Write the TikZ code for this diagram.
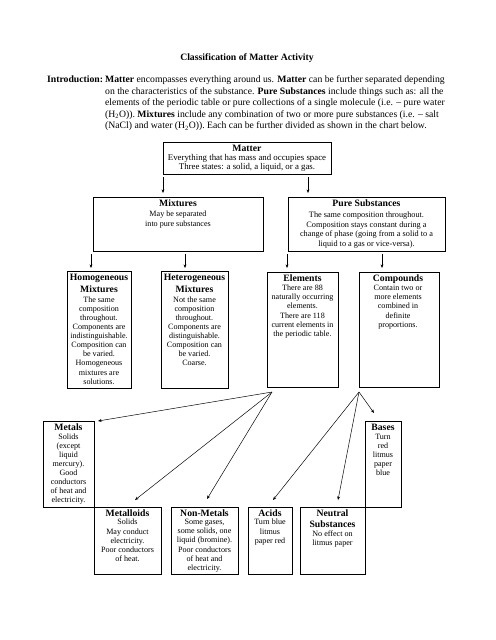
\documentclass[tikz,border=0pt]{standalone}
\usepackage{fontspec}
\setmainfont{Liberation Serif}
\usetikzlibrary{arrows.meta,fit}
\tikzset{
  box/.style={draw, line width=0.7pt, inner sep=0pt},
  hd/.style={font=\bfseries\fontsize{12}{14}\selectfont, anchor=base, inner sep=0pt},
  bd/.style={font=\fontsize{10}{11.25}\selectfont, align=center, anchor=north, inner sep=0pt},
  intro/.style={font=\fontsize{12}{14}\selectfont, anchor=base west, inner sep=0pt},
  arr/.style={-{Stealth[length=4.5pt,width=3.6pt]}, line width=0.6pt},
}
\begin{document}
\begin{tikzpicture}[x=1.23636pt,y=-1.23636pt]
\useasboundingbox (0,0) rectangle (495,640);
\fill[white] (0,0) rectangle (495,640);
% title and introduction
\node[hd] (title) at (247,61) {Classification of Matter Activity};
\node[intro] (introlabel) at (47,83) {\textbf{Introduction:}};
\node[intro] (i1) at (105,83) {\textbf{Matter} encompasses everything around us. \textbf{Matter} can be further separated depending};
\node[intro] (i2) at (105,94.4) {on the characteristics of the substance. \textbf{Pure Substances} include things such as: all the};
\node[intro] (i3) at (105,105.8) {elements of the periodic table or pure collections of a single molecule (i.e. -- pure water};
\node[intro] (i4) at (105,117.2) {(H\textsubscript{2}O)). \textbf{Mixtures} include any combination of two or more pure substances (i.e. -- salt};
\node[intro] (i5) at (105,128.6) {(NaCl) and water (H\textsubscript{2}O)). Each can be further divided as shown in the chart below.};
% Matter
\node[box, fit={(163,142) (331,174)}] (matter) {};
\node[hd] (matterH) at (247,151) {Matter};
\node[bd, font=\fontsize{10.9}{10.8}\selectfont] (matterT) at (247,154.3) {Everything that has mass and occupies space\\Three states: a solid, a liquid, or a gas.};
% second row
\node[box, fit={(93,197) (263,251)}] (mix) {};
\node[hd] (mixH) at (178,206) {Mixtures};
\node[bd, font=\fontsize{10}{11.6}\selectfont] (mixT) at (178,211) {May be separated\\into pure substances};
\node[box, fit={(288,197) (445,251)}] (pure) {};
\node[hd] (pureH) at (366.5,206) {Pure Substances};
\node[bd, font=\fontsize{10.2}{11.8}\selectfont] (pureT) at (366.5,212) {The same composition throughout.\\Composition stays constant during a\\change of phase (going from a solid to a\\liquid to a gas or vice-versa).};
% third row
\node[box, fit={(67,271) (131,388)}] (homog) {};
\node[hd] (homogH1) at (99,280) {Homogeneous};
\node[hd] (homogH2) at (99,292) {Mixtures};
\node[bd] (homogT) at (99,296.5) {The same\\composition\\throughout.\\Components are\\indistinguishable.\\Composition can\\be varied.\\Homogeneous\\mixtures are\\solutions.};
\node[box, fit={(161,271) (228,388)}] (heter) {};
\node[hd] (heterH1) at (194.5,280) {Heterogeneous};
\node[hd] (heterH2) at (194.5,292) {Mixtures};
\node[bd] (heterT) at (194.5,296.5) {Not the same\\composition\\throughout.\\Components are\\distinguishable.\\Composition can\\be varied.\\Coarse.};
\node[box, fit={(267,272) (338,387)}] (elem) {};
\node[hd] (elemH) at (302.5,281.5) {Elements};
\node[bd, font=\fontsize{10}{11.5}\selectfont] (elemT) at (302.5,284.6) {There are 88\\naturally occurring\\elements.\\There are 118\\current elements in\\the periodic table.};
\node[box, fit={(359,272) (439,387)}] (comp) {};
\node[hd] (compH) at (398,281.5) {Compounds};
\node[bd, font=\fontsize{10}{11.5}\selectfont] (compT) at (398,284.6) {Contain two or\\more elements\\combined in\\definite\\proportions.};
% fourth row
\node[box, fit={(43,421) (94,507)}] (metals) {};
\node[hd] (metalsH) at (68.5,430) {Metals};
\node[bd] (metalsT) at (68.5,433.5) {Solids\\(except\\liquid\\mercury).\\Good\\conductors\\of heat and\\electricity.};
\node[box, fit={(365,421) (401,507)}] (bases) {};
\node[hd] (basesH) at (383,430.5) {Bases};
\node[bd] (basesT) at (383,434) {Turn\\red\\litmus\\paper\\blue};
\node[box, fit={(94,507) (161,574)}] (metalloids) {};
\node[hd] (metalloidsH) at (127.5,516) {Metalloids};
\node[bd] (metalloidsT) at (127.5,519.2) {Solids\\May conduct\\electricity.\\Poor conductors\\of heat.};
\node[box, fit={(171,507) (238,574)}] (nonmetals) {};
\node[hd] (nonmetalsH) at (204.5,516) {Non-Metals};
\node[bd] (nonmetalsT) at (204.5,519.2) {Some gases,\\some solids, one\\liquid (bromine).\\Poor conductors\\of heat and\\electricity.};
\node[box, fit={(248,507) (292,574)}] (acids) {};
\node[hd] (acidsH) at (270,516) {Acids};
\node[bd] (acidsT) at (270,519.2) {Turn blue\\litmus\\paper red};
\node[box, fit={(300,507) (365,574)}] (neutral) {};
\node[hd] (neutralH1) at (332.5,516) {Neutral};
\node[hd] (neutralH2) at (332.5,527.5) {Substances};
\node[bd] (neutralT) at (332.5,530.5) {No effect on\\litmus paper};
% arrow end points
\coordinate (mA0) at (163,177); \coordinate (mA1) at (163,193);
\coordinate (mB0) at (308,177); \coordinate (mB1) at (308,193);
\coordinate (r3a0) at (91,254);  \coordinate (r3a1) at (91,268);
\coordinate (r3b0) at (185,254); \coordinate (r3b1) at (185,268);
\coordinate (r3c0) at (287,254); \coordinate (r3c1) at (287,268);
\coordinate (r3d0) at (382,254); \coordinate (r3d1) at (382,268);
\coordinate (eO) at (272,392);
\coordinate (cO) at (359,392);
\coordinate (toMetals) at (98,421);
\coordinate (toMetalloids) at (135,500);
\coordinate (toNonmetals) at (207,499);
\coordinate (toAcids) at (273,500);
\coordinate (toNeutral) at (338,500);
\coordinate (toBases) at (374,413);
\draw[arr] (mA0) -- (mA1);
\draw[arr] (mB0) -- (mB1);
\draw[arr] (r3a0) -- (r3a1);
\draw[arr] (r3b0) -- (r3b1);
\draw[arr] (r3c0) -- (r3c1);
\draw[arr] (r3d0) -- (r3d1);
\draw[arr] (eO) -- (toMetals);
\draw[arr] (eO) -- (toMetalloids);
\draw[arr] (eO) -- (toNonmetals);
\draw[arr] (cO) -- (toAcids);
\draw[arr] (cO) -- (toNeutral);
\draw[arr] (cO) -- (toBases);
\end{tikzpicture}
\end{document}
